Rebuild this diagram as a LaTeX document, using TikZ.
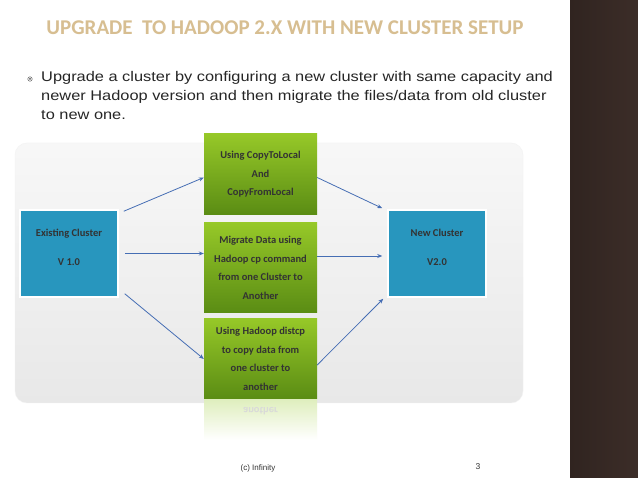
\documentclass[tikz,border=0pt]{standalone}
\usepackage{fontspec}
\setmainfont{Liberation Sans}
\newfontfamily\carfont{Carlito}
\usetikzlibrary{arrows.meta}
\definecolor{teal1}{RGB}{40,150,190}
\definecolor{grn1}{RGB}{150,200,40}
\definecolor{grn2}{RGB}{90,140,20}
\definecolor{arr}{RGB}{70,110,180}
\definecolor{gold}{RGB}{215,190,145}
\definecolor{strip}{RGB}{60,45,40}
\begin{document}
\begin{tikzpicture}[x=1pt,y=-1pt,
  blue/.style={draw=white,line width=1.5pt,fill=teal1,minimum width=98pt,minimum height=87pt,align=center,font=\carfont\bfseries\fontsize{10.5}{29}\selectfont,text=black!80},
  green/.style={draw=none,top color=grn1,bottom color=grn2,minimum width=113pt,align=center,font=\carfont\bfseries\fontsize{10.5}{18.5}\selectfont,text=black!80},
  link/.style={draw=arr,line width=0.8pt,-{Stealth[length=5pt,width=4pt]}}]
\useasboundingbox (0,0) rectangle (638,478);
\fill[white] (0,0) rectangle (638,478);
\shade[left color=strip!80!black,right color=strip] (570,0) rectangle (638,478);
\node[font=\carfont\bfseries\fontsize{21}{21}\selectfont,text=gold,draw=none] (title) at (285,28) {UPGRADE\ \ TO HADOOP 2.X WITH NEW CLUSTER SETUP};
\node[draw=black!70,circle,inner sep=1.6pt,fill=white] (bul) at (30,79) {};
\fill[black!70] (bul) circle (1pt);
\node[anchor=north west,align=left,font=\fontsize{14}{19}\selectfont,text=black!85,inner sep=0pt,xscale=1.17] (txt) at (41,71) {Upgrade a cluster by configuring a new cluster with same capacity and\\newer Hadoop version and then migrate the files/data from old cluster\\to new one.};
\shade[rounded corners=12pt,top color=black!3,bottom color=black!9,draw=black!5] (15,143) rectangle (523,403);
\node[blue,text depth=12pt] (old) at (69,253.5) {Existing Cluster\\V 1.0};
\node[blue,text depth=12pt] (new) at (437,253.5) {New Cluster\\V2.0};
\node[green,minimum height=81pt] (g1) at (260.5,174.5) {Using CopyToLocal\\And\\CopyFromLocal};
\node[green,minimum height=90pt] (g2) at (260.5,268) {Migrate Data using\\Hadoop cp command\\from one Cluster to\\Another};
\node[green,minimum height=80pt] (g3) at (260.5,359) {Using Hadoop distcp\\to copy data from\\one cluster to\\another};
\shade[top color=grn1!30,bottom color=white] (204,400) rectangle (317,440);
\node[font=\carfont\bfseries\fontsize{10.5}{18.5}\selectfont,text=black!15,yscale=-1] (refl) at (260.5,411) {another};
\draw[link] ([xshift=5pt,yshift=-2pt]old.north east) -- ([yshift=-3pt]g1.west);
\draw[link] ([xshift=6pt]old.east) -- (old.east -| g2.west);
\draw[link] ([xshift=6pt,yshift=4pt]old.south east) -- ([yshift=0pt]g3.west);
\draw[link] ([yshift=-3pt]g1.east) -- ([xshift=-5pt,yshift=1pt]new.north west);
\draw[link] (g2.east |- 0,256) -- ([xshift=-5pt]new.west |- 0,256);
\draw[link] ([yshift=-6pt]g3.east) -- ([xshift=-4pt,yshift=-1pt]new.south west);
\node[font=\fontsize{8}{8}\selectfont,text=black!80] (foot) at (258,468) {(c) Infinity};
\node[font=\fontsize{8.5}{8}\selectfont,text=black!80] (num) at (478,467) {3};
\end{tikzpicture}
\end{document}
